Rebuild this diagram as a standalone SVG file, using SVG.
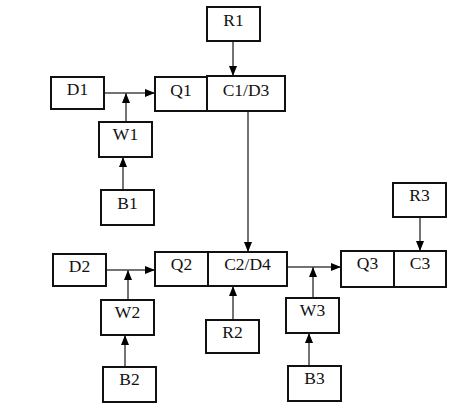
<svg xmlns="http://www.w3.org/2000/svg" width="474" height="410" viewBox="0 0 474 410">
<style>
.box{fill:#fff;stroke:#111;stroke-width:2}
.lbl{font-family:"Liberation Serif","Times New Roman",serif;font-size:17.5px;fill:#111;text-anchor:middle}
.con{fill:none;stroke:#444;stroke-width:1.5}
</style>
<defs>
<marker id="ah" markerUnits="userSpaceOnUse" markerWidth="10" markerHeight="10" viewBox="0 0 10 10" refX="10" refY="5" orient="auto">
<path d="M0,1 L10,5 L0,9 Z" fill="#000"/>
</marker>
</defs>
<rect width="474" height="410" fill="#fff"/>
<g id="connectors">
<line class="con" x1="233" y1="41" x2="233" y2="76" marker-end="url(#ah)"/>
<line class="con" x1="104" y1="93" x2="155" y2="93" marker-end="url(#ah)"/>
<line class="con" x1="126" y1="122" x2="126" y2="93" marker-end="url(#ah)"/>
<line class="con" x1="123" y1="190" x2="123" y2="157" marker-end="url(#ah)"/>
<line class="con" x1="248" y1="111" x2="248" y2="252" marker-end="url(#ah)"/>
<line class="con" x1="106" y1="270" x2="155" y2="270" marker-end="url(#ah)"/>
<line class="con" x1="128" y1="300" x2="128" y2="270" marker-end="url(#ah)"/>
<line class="con" x1="125" y1="367" x2="125" y2="335" marker-end="url(#ah)"/>
<line class="con" x1="233" y1="320" x2="233" y2="286" marker-end="url(#ah)"/>
<line class="con" x1="287" y1="267" x2="341" y2="267" marker-end="url(#ah)"/>
<line class="con" x1="313" y1="298" x2="313" y2="267" marker-end="url(#ah)"/>
<line class="con" x1="309" y1="366" x2="309" y2="333" marker-end="url(#ah)"/>
<line class="con" x1="420" y1="217" x2="420" y2="251" marker-end="url(#ah)"/>
</g>
<g id="R1"><rect class="box" x="207" y="7" width="53" height="34"/><text class="lbl" x="233.5" y="26">R1</text></g>
<g id="D1"><rect class="box" x="51" y="77" width="53" height="32"/><text class="lbl" x="77.5" y="95">D1</text></g>
<g id="Q1"><rect class="box" x="155" y="77" width="52" height="34"/><text class="lbl" x="181" y="96">Q1</text></g>
<g id="C1D3"><rect class="box" x="207" y="76" width="78" height="35"/><text class="lbl" x="246" y="96">C1/D3</text></g>
<g id="W1"><rect class="box" x="99" y="122" width="53" height="35"/><text class="lbl" x="125.5" y="140">W1</text></g>
<g id="B1"><rect class="box" x="101" y="190" width="53" height="35"/><text class="lbl" x="127.5" y="209">B1</text></g>
<g id="R3"><rect class="box" x="393" y="183" width="53" height="34"/><text class="lbl" x="419.5" y="201">R3</text></g>
<g id="D2"><rect class="box" x="53" y="254" width="53" height="32"/><text class="lbl" x="79.5" y="272">D2</text></g>
<g id="Q2"><rect class="box" x="155" y="252" width="53" height="34"/><text class="lbl" x="181.5" y="270">Q2</text></g>
<g id="C2D4"><rect class="box" x="208" y="252" width="79" height="34"/><text class="lbl" x="247.5" y="270">C2/D4</text></g>
<g id="Q3"><rect class="box" x="341" y="251" width="53" height="36"/><text class="lbl" x="367.5" y="269">Q3</text></g>
<g id="C3"><rect class="box" x="394" y="251" width="52" height="36"/><text class="lbl" x="420" y="269">C3</text></g>
<g id="W2"><rect class="box" x="101" y="300" width="53" height="35"/><text class="lbl" x="127.5" y="318">W2</text></g>
<g id="R2"><rect class="box" x="206" y="320" width="53" height="33"/><text class="lbl" x="232.5" y="338">R2</text></g>
<g id="W3"><rect class="box" x="286" y="298" width="53" height="35"/><text class="lbl" x="312.5" y="316">W3</text></g>
<g id="B2"><rect class="box" x="103" y="367" width="53" height="35"/><text class="lbl" x="129.5" y="385">B2</text></g>
<g id="B3"><rect class="box" x="288" y="366" width="53" height="35"/><text class="lbl" x="314.5" y="384">B3</text></g>
</svg>
